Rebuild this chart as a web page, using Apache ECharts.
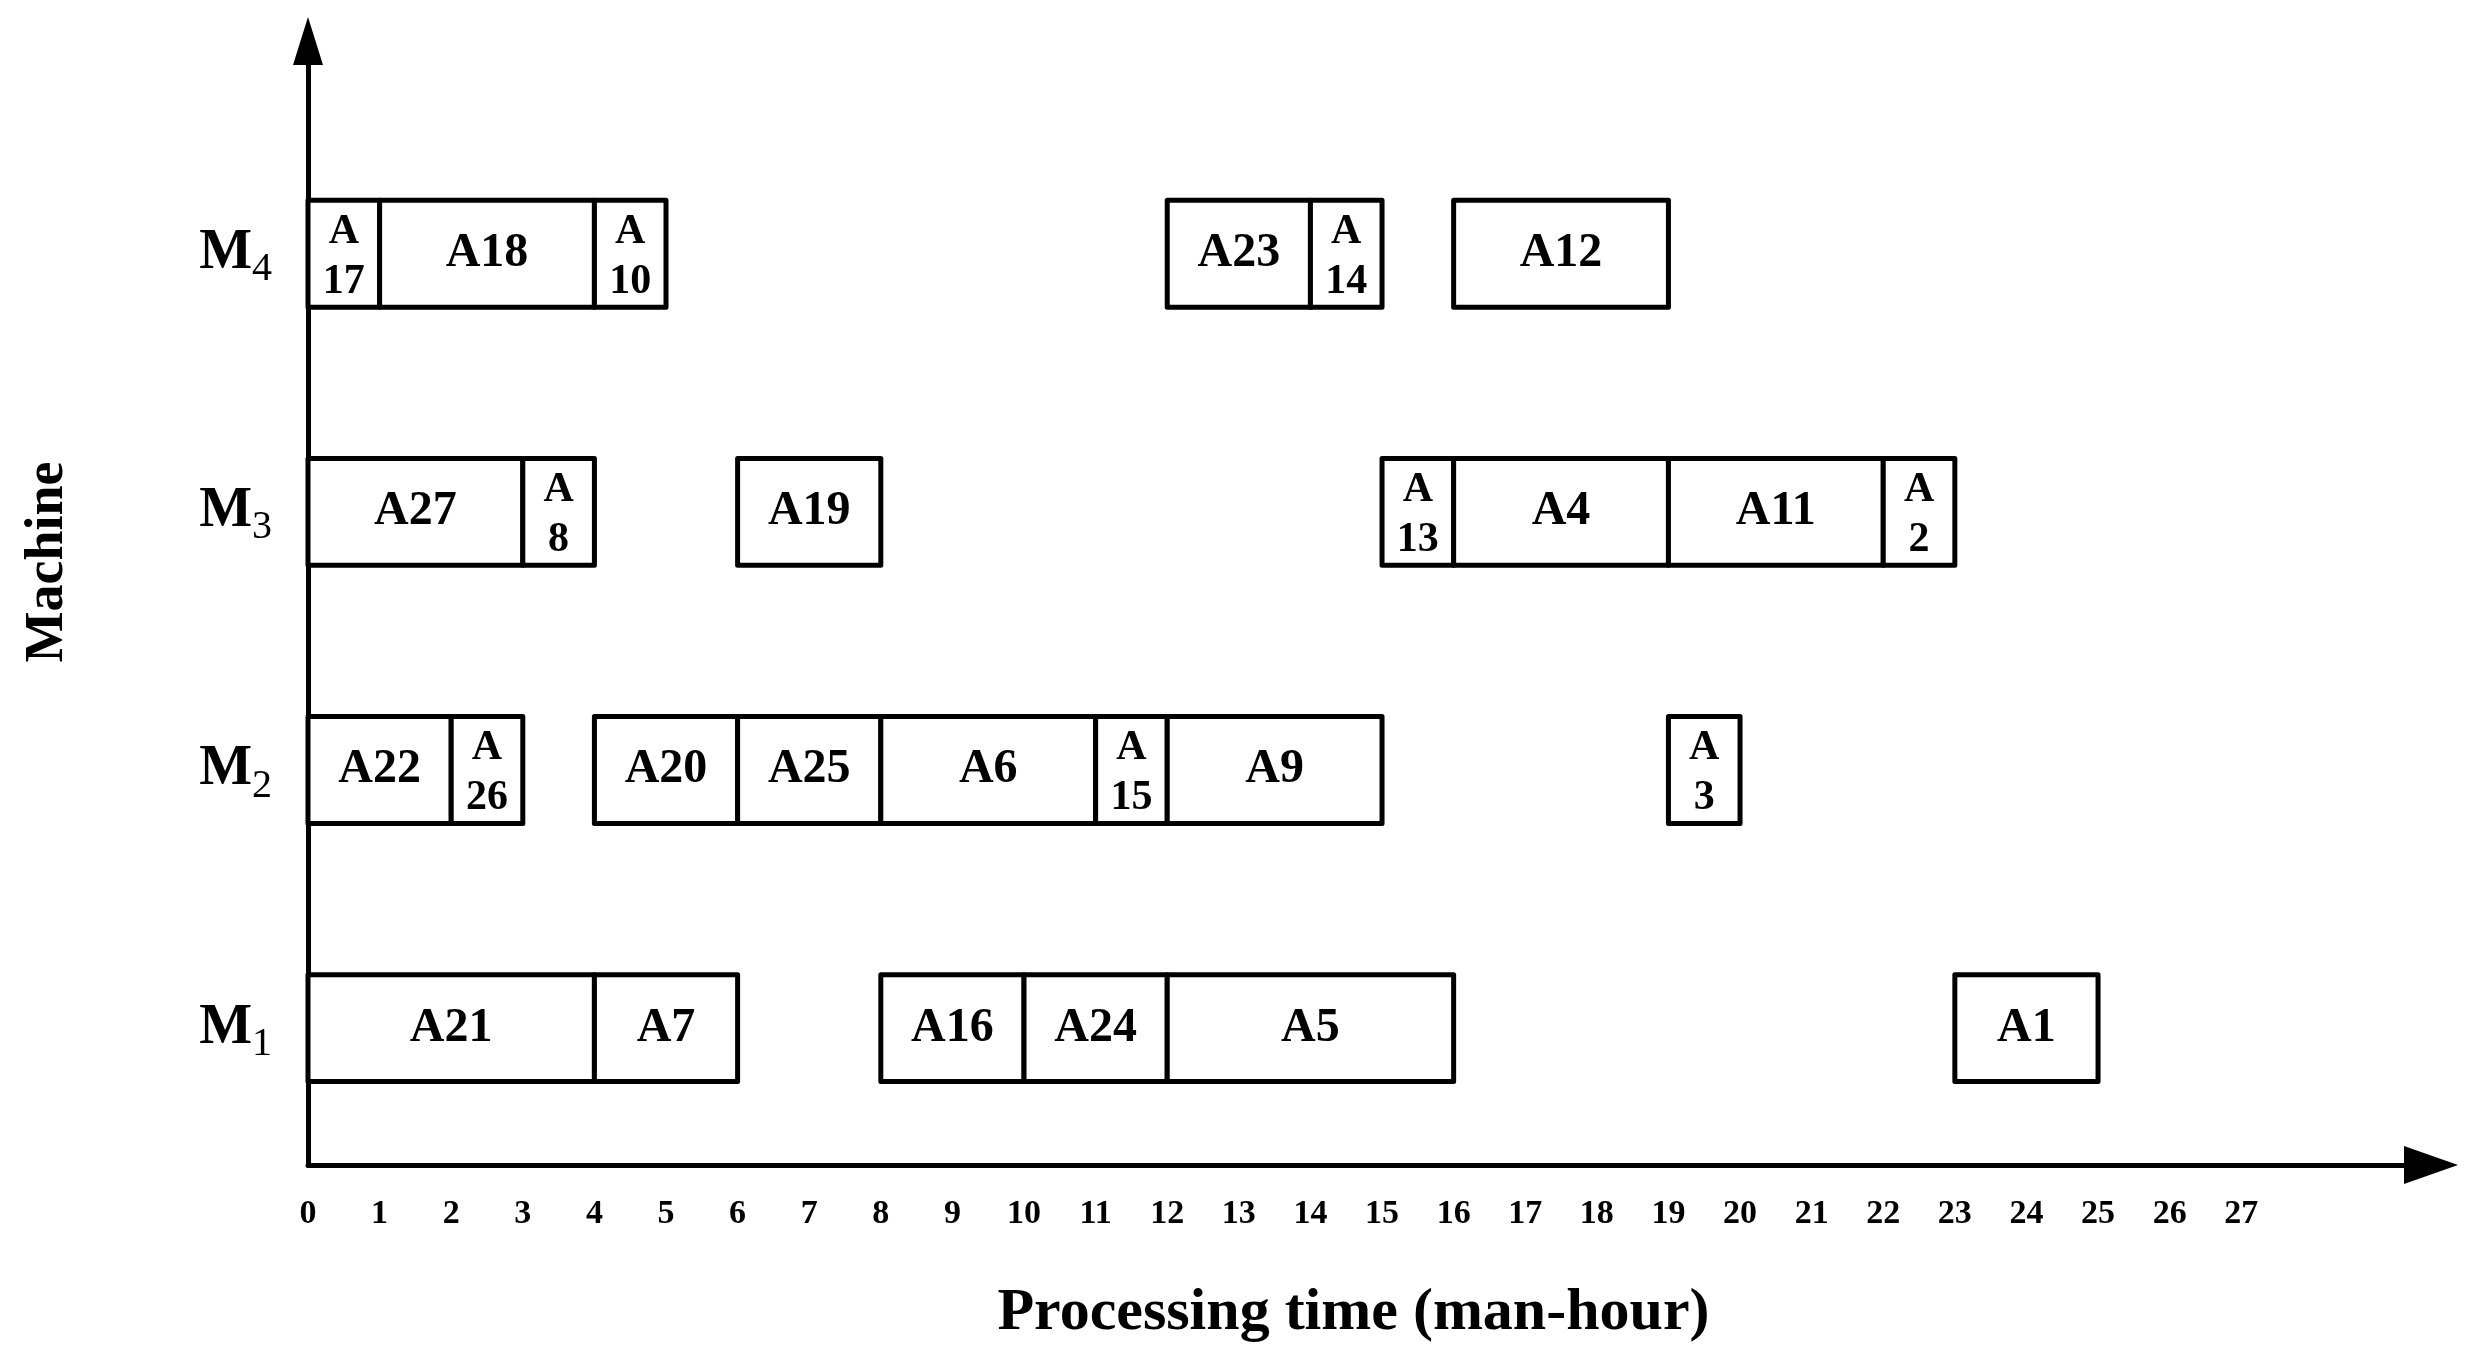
<!DOCTYPE html>
<html>
<head>
<meta charset="utf-8">
<script src="https://cdn.jsdelivr.net/npm/echarts@6/dist/echarts.min.js"></script>
<style>
html,body{margin:0;padding:0;background:#fff;}
#chart{width:2475px;height:1354px;}
</style>
</head>
<body>
<div id="chart"></div>
<script>
// ---- data ----
const machines = ['M1', 'M2', 'M3', 'M4'];

const m1Names = ['A21', 'A7', 'A16', 'A24', 'A5', 'A1'];
const m1Start = [0, 4, 8, 10, 12, 23];
const m1End   = [4, 6, 10, 12, 16, 25];

const m2Names = ['A22', 'A26', 'A20', 'A25', 'A6', 'A15', 'A9', 'A3'];
const m2Start = [0, 2, 4, 6, 8, 11, 12, 19];
const m2End   = [2, 3, 6, 8, 11, 12, 15, 20];

const m3Names = ['A27', 'A8', 'A19', 'A13', 'A4', 'A11', 'A2'];
const m3Start = [0, 3, 6, 15, 16, 19, 22];
const m3End   = [3, 4, 8, 16, 19, 22, 23];

const m4Names = ['A17', 'A18', 'A10', 'A23', 'A14', 'A12'];
const m4Start = [0, 1, 4, 12, 14, 16];
const m4End   = [1, 4, 5, 14, 15, 19];

const xTickLabels = [0, 1, 2, 3, 4, 5, 6, 7, 8, 9, 10, 11, 12, 13, 14, 15, 16, 17, 18, 19, 20, 21, 22, 23, 24, 25, 26, 27];

const xTitle = 'Processing time (man-hour)';
const yTitle = 'Machine';

// ---- build series data ----
const rows = [
  [m1Names, m1Start, m1End],
  [m2Names, m2Start, m2End],
  [m3Names, m3Start, m3End],
  [m4Names, m4Start, m4End]
];
const tasks = [];
rows.forEach(function (r, mi) {
  r[0].forEach(function (nm, i) {
    tasks.push({ name: nm, value: [r[1][i], r[2][i], mi + 1] });
  });
});

const FONT = 'Liberation Serif';

function renderItem(params, api) {
  const s = api.coord([api.value(0), api.value(2)]);
  const e = api.coord([api.value(1), api.value(2)]);
  const h = api.size([0, 0.414])[1];
  const nm = tasks[params.dataIndex].name;
  const dur = api.value(1) - api.value(0);
  let label = nm;
  let fs = 48;
  if (dur <= 1) {
    label = nm.charAt(0) + '\n' + nm.slice(1);
    fs = 42;
  }
  return {
    type: 'group',
    children: [
      {
        type: 'rect',
        shape: { x: s[0], y: s[1] - h / 2, width: e[0] - s[0], height: h },
        style: { fill: '#ffffff', stroke: '#000000', lineWidth: 5, lineJoin: 'round' }
      },
      {
        type: 'text',
        z2: 10,
        style: {
          text: label,
          x: (s[0] + e[0]) / 2,
          y: s[1] + (dur <= 1 ? 3 : 0),
          align: 'center',
          verticalAlign: 'middle',
          fontFamily: FONT,
          fontWeight: 'bold',
          fontSize: fs,
          lineHeight: 50,
          fill: '#000000'
        }
      }
    ]
  };
}

const chart = echarts.init(document.getElementById('chart'));
chart.setOption({
  animation: false,
  backgroundColor: '#ffffff',
  textStyle: { fontFamily: FONT },
  grid: {
    left: 308, right: 44, top: 41, bottom: 189,
    containLabel: false, outerBoundsMode: 'none'
  },
  xAxis: {
    type: 'value',
    min: 0,
    max: 29.65,
    name: xTitle,
    nameLocation: 'middle',
    nameGap: 118,
    nameTextStyle: {
      fontFamily: FONT, fontWeight: 'bold', fontSize: 60, color: '#000',
      padding: [0, 32, 0, 0]
    },
    axisLine: {
      show: true,
      symbol: ['none', 'triangle'],
      symbolSize: [38, 54],
      lineStyle: { color: '#000', width: 5 }
    },
    axisTick: { show: false },
    splitLine: { show: false },
    axisLabel: {
      customValues: xTickLabels,
      margin: 32,
      fontFamily: FONT, fontWeight: 'bold', fontSize: 34, color: '#000'
    }
  },
  yAxis: {
    type: 'value',
    min: 0.47,
    max: 4.824,
    name: yTitle,
    nameLocation: 'middle',
    nameGap: 233,
    nameRotate: 90,
    nameTextStyle: {
      fontFamily: FONT, fontWeight: 'bold', fontSize: 54, color: '#000',
      padding: [0, 0, 0, 82]
    },
    axisLine: {
      show: true,
      symbol: ['none', 'triangle'],
      symbolSize: [30, 48],
      lineStyle: { color: '#000', width: 5 }
    },
    axisTick: { show: false },
    splitLine: { show: false },
    axisLabel: {
      customValues: [1, 2, 3, 4],
      margin: 36,
      formatter: function (v) {
        const m = machines[Math.round(v) - 1] || '';
        return '{m|' + m.charAt(0) + '}{s|' + m.slice(1) + '}';
      },
      rich: {
        m: { fontFamily: FONT, fontWeight: 'bold', fontSize: 56, color: '#000' },
        s: { fontFamily: FONT, fontWeight: 'normal', fontSize: 40, color: '#000', padding: [32, 0, 0, 0] }
      }
    }
  },
  series: [{
    type: 'custom',
    renderItem: renderItem,
    encode: { x: [0, 1], y: 2 },
    data: tasks,
    clip: false
  }]
});
</script>
</body>
</html>
